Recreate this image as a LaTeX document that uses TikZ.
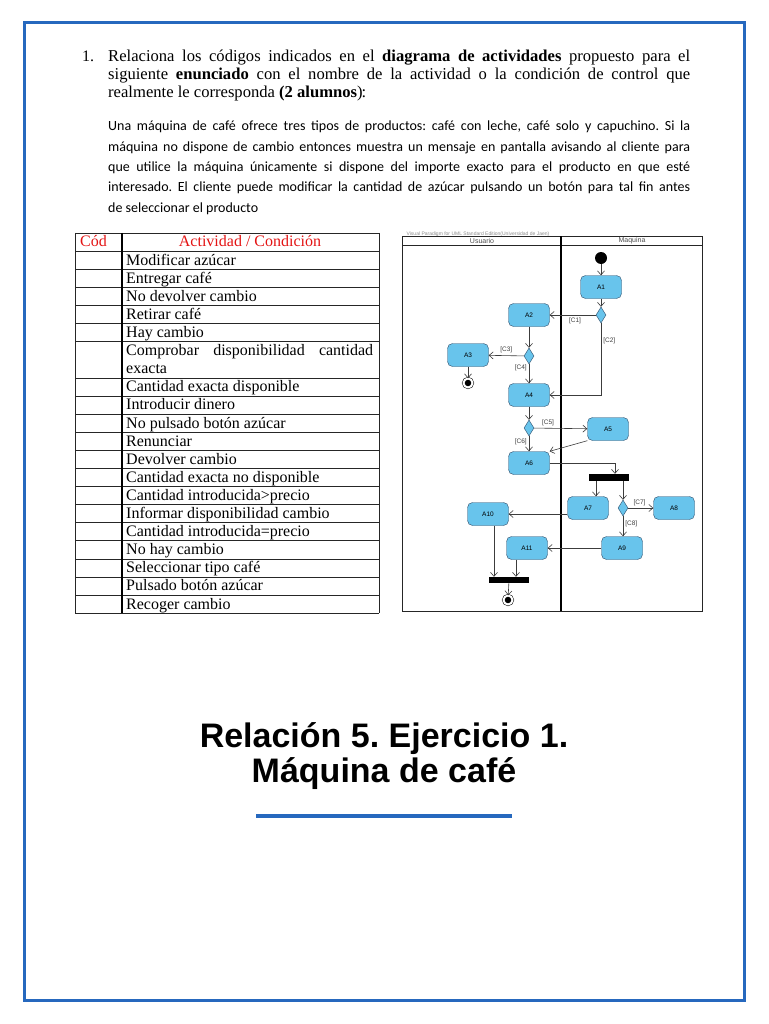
\documentclass[tikz,border=0pt]{standalone}
\usepackage{fontspec}
\setmainfont{Liberation Serif}
\setsansfont{Liberation Sans}
\newfontfamily\manofont{Carlito}
\usetikzlibrary{shapes,shapes.geometric,arrows.meta,calc}
\usetikzlibrary{positioning}
\definecolor{clrMarco}{RGB}{38,104,190}
\definecolor{clrActividad}{RGB}{104,196,236}
\definecolor{clrBorde}{RGB}{45,75,105}
\definecolor{clrFlecha}{RGB}{60,60,60}
\definecolor{clrCabecera}{RGB}{228,20,20}
\tikzstyle{marco}=[draw=clrMarco, line width=3pt]
\tikzstyle{rejilla}=[draw=black!85, line width=0.6pt]
\tikzstyle{celda}=[anchor=base west, inner sep=0pt, font=\fontsize{16}{18}\selectfont]
\tikzstyle{actividad}=[draw=clrBorde, fill=clrActividad, rounded corners=5pt,
minimum width=41pt, minimum height=23pt, inner sep=0pt, font=\sffamily\fontsize{6.5}{7}\selectfont]
\tikzstyle{decision}=[diamond, draw=clrBorde, fill=clrActividad, minimum width=10pt,
minimum height=16pt, inner sep=0pt]
\tikzstyle{barra}=[fill=black, minimum width=40pt, minimum height=7pt, inner sep=0pt]
\tikzstyle{inicio}=[circle, fill=black, minimum size=12pt, inner sep=0pt]
\tikzstyle{fin}=[circle, draw=black, fill=black, minimum size=9pt, inner sep=0pt,
line width=0.5pt, double=white, double distance=2pt]
\tikzstyle{flecha}=[->, >={Straight Barb[length=4pt,width=7pt]}, draw=clrFlecha, line width=0.6pt]
\tikzstyle{guarda}=[font=\sffamily\fontsize{6.5}{7}\selectfont, text=black!75, inner sep=2pt]
\tikzstyle{calle}=[font=\sffamily\fontsize{7}{8}\selectfont, text=black!70]
\tikzstyle{titulo}=[anchor=base, inner sep=0pt, font=\frenchspacing\sffamily\bfseries\fontsize{34}{36}\selectfont]

\begin{document}
\begin{tikzpicture}[x=1pt, y=-1pt]
	\useasboundingbox (0,0) rectangle (768,1024);
	\fill[white] (0,0) rectangle (768,1024);
	\draw[marco] (24,23) rectangle (744,1000);

	% enunciado
	\node[celda] (num) at (82,62) {1.};
	\node[celda] (enunciado) at (108,62) {\parbox[t]{582pt}{\fontsize{16.6}{18}\selectfont
	Relaciona los códigos indicados en el \textbf{diagrama de actividades} propuesto para el\linebreak
	siguiente \textbf{enunciado} con el nombre de la actividad o la condición de control que\linebreak
	realmente le corresponda \textbf{(2 alumnos})\kern-1pt:}};

	\node[anchor=base west, inner sep=0pt] (texto) at (108,131) {\parbox[t]{582pt}{\frenchspacing\manofont\fontsize{14}{20.3}\selectfont
	Una máquina de café ofrece tres tipos de productos: café con leche, café solo y capuchino. Si la\linebreak
	máquina no dispone de cambio entonces muestra un mensaje en pantalla avisando al cliente para\linebreak
	que utilice la máquina únicamente si dispone del importe exacto para el producto en que esté\linebreak
	interesado. El cliente puede modificar la cantidad de azúcar pulsando un botón para tal fin antes\linebreak
	de seleccionar el producto}};

	% tabla
	\begin{scope}
		\foreach \k in {0,...,21}{
			\ifnum\k=7 \else
				\draw[rejilla] (75,{233+18.1*\k}) -- (379,{233+18.1*\k});
			\fi
		}
		\draw[rejilla] (75,233) -- (75,613.1);
		\draw[rejilla] (379,233) -- (379,613.1);
		\draw[black, line width=1.3pt] (122,233) -- (122,613.1);

		\node[celda, text=clrCabecera] (cod) at (80,247) {Cód};
		\node[celda, anchor=base, text=clrCabecera] (act) at (250,247) {Actividad / Condición};

		\foreach \u/\t in {1/Modificar azúcar, 2/Entregar café, 3/No devolver cambio, 4/Retirar café,
			5/Hay cambio, 8/Cantidad exacta disponible, 9/Introducir dinero, 10/No pulsado botón azúcar,
			11/Renunciar, 12/Devolver cambio, 13/Cantidad exacta no disponible, 14/Cantidad introducida>precio,
			15/Informar disponibilidad cambio, 16/Cantidad introducida=precio, 17/No hay cambio,
			18/Seleccionar tipo café, 19/Pulsado botón azúcar, 20/Recoger cambio}{
			\node[celda] at (126,{233+18.1*(\u+0.5)+5}) {\t};
		}
		\node[celda] (comprobar) at (126,355.6) {\parbox[t]{247pt}{\fontsize{16}{18.1}\selectfont
		Comprobar disponibilidad cantidad\linebreak exacta}};
	\end{scope}

	% diagrama de actividades
	\begin{scope}
		\draw[black!85, line width=1pt] (402,236) rectangle (702,611);
		\draw[black!85, line width=1pt] (402,245) -- (702,245);
		\draw[black, line width=1.5pt] (561,236) -- (561,611);
		\node[font=\sffamily\fontsize{5}{5}\selectfont, text=black!45, inner sep=0pt] (vp) at (478,234)
		{Visual Paradigm for UML Standard Edition(Universidad de Jaen)};
		\node[calle] (usuario) at (482,240.5) {Usuario};
		\node[calle] (maquina) at (632,240.5) {Maquina};

		\node[inicio] (I) at (601,258) {};
		\node[actividad] (A1) at (601,287) {A1};
		\node[decision] (D1) at (601,315) {};
		\node[actividad] (A2) at (529,315) {A2};
		\node[decision] (D2) at (529,356) {};
		\node[actividad] (A3) at (468,355) {A3};
		\node[fin] (F1) at (468,383) {};
		\node[actividad] (A4) at (529,395) {A4};
		\node[decision] (D3) at (529,428) {};
		\node[actividad] (A5) at (608,429) {A5};
		\node[actividad] (A6) at (529,463) {A6};
		\node[barra] (B1) at (609,477.5) {};
		\node[actividad] (A7) at (588,508) {A7};
		\node[decision] (D4) at (623,508) {};
		\node[actividad] (A8) at (674,508) {A8};
		\node[actividad] (A9) at (622,548) {A9};
		\node[actividad] (A10) at (488,514) {A10};
		\node[actividad] (A11) at (527,548) {A11};
		\node[barra, minimum height=6pt] (B2) at (509,580) {};
		\node[fin] (F2) at (508,600) {};

		\draw[flecha] (I) -- (A1);
		\draw[flecha] (A1) -- (D1);
		\draw[flecha] (D1) -- node[guarda, below, pos=0.45] {[C1]} (A2);
		\draw[flecha] (D1) |- node[guarda, right, pos=0.12] {[C2]} (A4);
		\draw[flecha] (A2) -- (D2);
		\draw[flecha] (D2) -- node[guarda, above, pos=0.5] {[C3]} (A3);
		\draw[flecha] (D2) -- node[guarda, left, pos=0.2] {[C4]} (A4);
		\draw[flecha] (A3) -- (F1);
		\draw[flecha] (A4) -- (D3);
		\draw[flecha] (D3) -- node[guarda, above, pos=0.26] {[C5]} (A5);
		\draw[flecha] (D3) -- node[guarda, left, pos=0.4] {[C6]} (A6);
		\draw[flecha] (A5.south west) -- (A6.north east);
		\coordinate (b1e) at ([xshift=6pt]B1.north);
		\draw[flecha] (A6) -| (b1e);
		\coordinate (b1a) at ([xshift=-13pt]B1.south);
		\draw[flecha] (b1a) -- (b1a |- A7.north);
		\draw[flecha] (B1.south -| D4) -- (D4);
		\draw[flecha] (D4) -- node[guarda, above, pos=0.45] {[C7]} (A8);
		\draw[flecha] (D4) -- node[guarda, right, pos=0.4] {[C8]} (D4 |- A9.north);
		\draw[flecha] (A7.west |- A10) -- (A10);
		\draw[flecha] (A9) -- (A11);
		\coordinate (j1) at ([xshift=-15pt]B2.north);
		\coordinate (j2) at ([xshift=7pt]B2.north);
		\draw[flecha] (j1 |- A10.south) -- (j1);
		\draw[flecha] (j2 |- A11.south) -- (j2);
		\draw[flecha] (B2) -- (F2);
	\end{scope}

	% titulo
	\node[titulo] (titulo1) at (384,747) {Relación 5. Ejercicio 1.};
	\node[titulo] (titulo2) at (384,782) {Máquina de café};
	\draw[clrMarco, line width=4pt] (256,816) -- (512,816);
\end{tikzpicture}
\end{document}
